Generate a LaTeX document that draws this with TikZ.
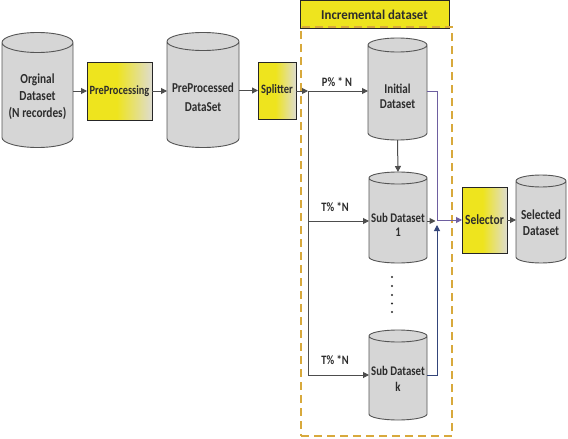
\documentclass[tikz,border=0pt]{standalone}
\usepackage{fontspec}
\setmainfont{Carlito}[FakeStretch=0.82]
\newfontfamily\widefont{Carlito}[FakeStretch=0.95]
\usetikzlibrary{arrows.meta,calc}
\definecolor{cylfill}{HTML}{D6D6D6}
\definecolor{cylline}{HTML}{555555}
\definecolor{txtc}{HTML}{2C2C2C}
\definecolor{ylw}{HTML}{EEE41E}
\definecolor{ygray}{HTML}{DEDCCF}
\definecolor{dashc}{HTML}{D8A93C}
\definecolor{purp}{HTML}{6E5FA0}
\definecolor{navyc}{HTML}{34457A}
\definecolor{arrc}{HTML}{4D4D4D}
\pgfdeclarehorizontalshading{yshade}{100bp}{color(0bp)=(ylw); color(25bp)=(ylw); color(48bp)=(ylw); color(75bp)=(ygray); color(100bp)=(ygray)}
\newcommand\cylbody[2]{%
 \path[draw=cylline, fill=cylfill, line width=0.9pt] let \p1=(#1.north west), \p2=(#1.south east), \n1={(\x2-\x1)/2} in
 (\x1,\y1-#2) -- (\x1,\y2+#2) arc[start angle=180,end angle=360,x radius=\n1,y radius=#2] -- (\x2,\y1-#2) arc[start angle=0,end angle=180,x radius=\n1,y radius=#2] -- cycle
 (\x1,\y1-#2) arc[start angle=180,end angle=360,x radius=\n1,y radius=#2];}
\newcommand\fs[2]{\bfseries\fontsize{#1}{#2}\selectfont}
\tikzset{
 cylbox/.style={inner sep=0pt, outer sep=0pt},
 lbl/.style={font=\fs{13.5}{16}, text=txtc, align=center, inner sep=0pt},
 ybox/.style={draw=black!85, line width=0.8pt, shading=yshade, inner sep=0pt, outer sep=0pt, lbl},
 arr/.style={draw=arrc, line width=1pt, -{Triangle[length=6pt,width=6pt]}},
}
\begin{document}
\begin{tikzpicture}[x=1pt,y=-1pt]
\fill[white] (0,0) rectangle (568,439);
\useasboundingbox (0,0) rectangle (568,439);
% frames
\node[cylbox, minimum width=71pt, minimum height=115pt] (orig) at (37.5,90) {};
\node[cylbox, minimum width=72pt, minimum height=115pt] (ppds) at (203,90) {};
\node[cylbox, minimum width=59pt, minimum height=102pt] (initial) at (397.5,89) {};
\node[cylbox, minimum width=58pt, minimum height=91pt] (sub1) at (398,217.5) {};
\node[cylbox, minimum width=58pt, minimum height=90pt] (subk) at (398,375) {};
\node[cylbox, minimum width=50pt, minimum height=88pt] (selected) at (541,219) {};
\cylbody{orig}{10pt}
\cylbody{ppds}{9pt}
\cylbody{initial}{7pt}
\cylbody{sub1}{6pt}
\cylbody{subk}{6pt}
\cylbody{selected}{6pt}
% texts
\node[lbl, font=\fs{13.8}{17}] (origt) at (37.5,97) {Orginal\\Dataset\\(N recordes)};
\node[lbl, font=\fs{13.6}{19}] (ppdst) at (203,97) {PreProcessed\\DataSet};
\node[lbl, font=\fs{13.5}{15}] (initialt) at (397.5,96) {Initial\\Dataset};
\node[lbl, font=\fs{13.2}{14.5}] (sub1t) at (398,225) {Sub Dataset\\1};
\node[lbl, font=\fs{13.2}{15.5}] (subkt) at (398,379) {Sub Dataset\\k};
\node[lbl, font=\fs{13.8}{16}] (selectedt) at (541,223) {Selected\\Dataset};
% boxes
\node[ybox, font=\fs{12.6}{15}, minimum width=65pt, minimum height=58pt] (pre) at (119.5,91) {PreProcessing};
\node[ybox, font=\fs{12.8}{15}, minimum width=38pt, minimum height=57pt] (split) at (277,90.5) {Splitter};
\node[ybox, font=\fs{14}{16}, minimum width=45pt, minimum height=66pt] (selector) at (484.5,220) {Selector};
\node[draw=black!85, line width=0.8pt, fill=ylw, minimum width=149pt, minimum height=28pt, inner sep=0pt, lbl, font=\widefont\fs{13.5}{16}] (incr) at (374.5,14.5) {Incremental dataset};
\node[draw=dashc, line width=1.6pt, dash pattern=on 8pt off 5pt, minimum width=151pt, minimum height=409pt, inner sep=0pt] (incbox) at (376.5,231.5) {};
% labels
\node[lbl, font=\fs{12.8}{15}] (pn) at (337,82) {P\% * N};
\node[lbl, font=\fs{12.8}{15}] (tn1) at (335,207) {T\% *N};
\node[lbl, font=\fs{12.8}{15}] (tnk) at (335,360) {T\% *N};
% coordinates
\coordinate (j1) at (308,91);
\coordinate (j2) at (308,221);
\coordinate (j3) at (308,375);
\coordinate (rt) at (437,91);
% connectors
\draw[arr] (orig.east |- pre.west) -- (pre.west);
\draw[arr] (pre.east) -- (pre.east -| ppds.west);
\draw[arr] (split.west -| ppds.east) -- (split.west);
\draw[arr] (split.east |- j1) -- (j1);
\draw[arr] (j1) -- (j1 -| initial.west);
\draw[arrc, line width=1pt] (j1) -- (j3);
\draw[arr] (j2) -- (j2 -| sub1.west);
\draw[arr] (j3) -- (j3 -| subk.west);
\draw[arr] (initial.south) -- (sub1.north);
\draw[arr] (j2 -| sub1.east) -- ($(j2 -| rt)+(-1.5pt,0)$);
\draw[draw=purp, line width=1pt, -{Triangle[length=6pt,width=6pt]}] (j1 -| initial.east) -- (rt) -- (rt |- selector.west) -- (selector.west);
\draw[draw=navyc, line width=1pt, -{Triangle[length=6pt,width=6pt]}] (j3 -| subk.east) -- (j3 -| rt) -- ($(rt |- selector.west)+(0,-5pt)$);
\draw[arr] (selector.east) -- (selector.east -| selected.west);
% dots
\foreach \yy in {277,286,295,303.5,312} \fill[txtc] (392,\yy) circle[radius=1.2pt];
\end{tikzpicture}
\end{document}
